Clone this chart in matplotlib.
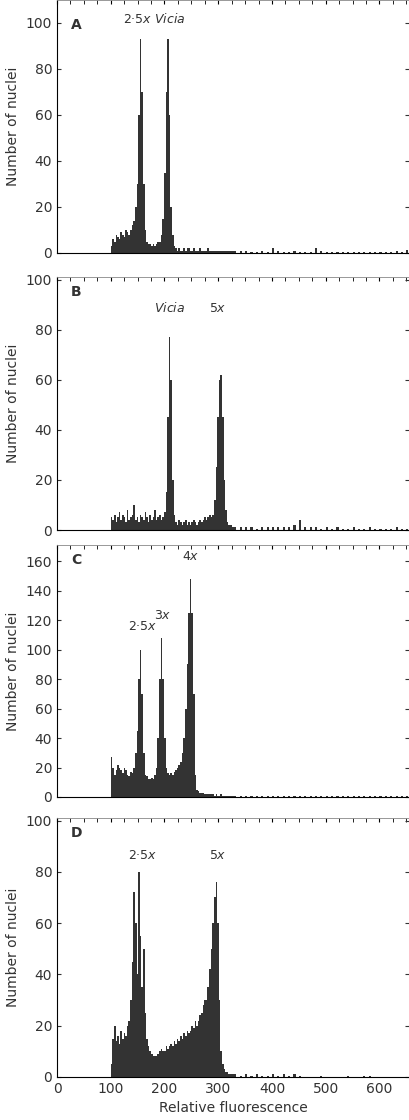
import numpy as np
import matplotlib.pyplot as plt
from matplotlib.ticker import MultipleLocator

# main region: bins of width 3 starting at 100; tail region: width 10 from 330
main_x = np.arange(100, 331, 3)
tail_x = np.arange(330, 700, 10)

a_main = [3, 6, 5, 8, 7, 6, 9, 8, 7, 10, 9, 8, 10, 12, 14, 20,
          30, 60, 93, 70, 30, 10, 5, 4, 4, 3, 4, 3, 4, 5, 5, 8, 15, 35, 70, 93, 60, 20, 8, 3,
          2, 1, 2, 1, 1, 2, 1, 2, 2, 1, 1, 2, 1, 1, 1, 2, 1, 1, 1, 1, 2, 1, 1, 1, 1, 1, 1, 1,
          1, 1, 1, 1, 1, 1, 1, 1, 1]
a_tail = [1, 1, 1, 0.5, 0.5, 1, 0.5, 2, 1, 0.5, 0.5, 1, 0.5, 0.5, 0.5, 2, 1, 0.5, 0.5,
          0.5, 0.5, 0.5, 0.5, 0.5, 0.5, 0.5, 0.5, 0.5, 0.5, 0.5, 1, 0.5, 1.5, 0.5, 0.5, 0.5, 0.5]

b_main = [5, 4, 6, 3, 5, 7, 4, 6, 5, 3, 8, 4, 5, 6, 10, 4, 5, 3, 6, 5, 4, 7, 5, 3, 6, 4, 5, 8, 4, 5, 6, 4, 5, 7,
          15, 45, 77, 60, 20, 6,
          3, 2, 4, 3, 2, 3, 4, 2, 3, 2, 3, 4, 3, 2, 3, 4, 3, 4, 5, 4, 5, 6, 5, 6,
          12, 25, 45, 60, 62, 45, 20, 8,
          3, 2, 2, 1, 1]
b_tail = [1, 1, 1, 1, 0.5, 1, 1, 1, 1, 1, 1, 2, 4, 1, 1, 1, 0.5, 1, 0.5, 1, 0.5, 0.5, 1, 0.5,
          0.5, 1, 0.5, 0.5, 0.5, 0.5, 1, 0.5, 0.5, 1, 0.5, 0.5, 0.5]

c_main = [27, 20, 15, 18, 22, 20, 18, 16, 20, 18, 15, 14, 17, 16, 20, 30,
          45, 80, 100, 70, 30, 15, 14, 12, 12, 13, 12, 15, 20, 40, 80, 108, 80, 40, 20, 16, 15,
          16, 15, 17, 18, 20, 22, 24, 30, 40, 60, 90,
          125, 148, 125, 70, 15, 5,
          4, 3, 3, 3, 2, 2, 2, 2, 2, 2, 1, 2, 1, 1, 2, 1, 1, 1, 1, 1, 1, 1, 1]
c_tail = [1, 1, 1, 1, 1, 1, 1, 0.5, 1, 1, 0.5, 1, 0.5, 0.5, 1, 0.5, 0.5, 0.5, 1, 0.5, 0.5,
          0.5, 0.5, 0.5, 0.5, 0.5, 0.5, 0.5, 0.5, 0.5, 0.5, 0.5, 0.5, 0.5, 0.5, 0.5, 0.5]

d_main = [5, 15, 20, 14, 16, 13, 18, 15, 17, 16, 20, 22, 30, 45,
          72, 60, 40, 80, 55, 35, 50, 25, 15, 12,
          10, 9, 8, 8, 8, 9, 10, 11, 10, 10, 12, 11, 12, 13, 12, 14, 13, 15, 14, 16,
          15, 17, 16, 18, 17, 18, 20, 19, 22, 20, 22, 24, 25, 28, 30,
          30, 35, 42, 50, 60, 70, 76, 60, 30,
          10, 5, 3, 2, 2, 1, 1, 1, 1]
d_tail = [1, 0.5, 1, 0.5, 1, 0.5, 0.5, 1, 0.5, 1, 0.5, 1, 0.5, 0, 0, 0, 0.5, 0, 0, 0,
          0, 0.5, 0, 0, 0.5, 0.5, 0, 0, 0, 0, 0, 0, 0, 0, 0, 0, 0]

panels = [
    ("A", a_main, a_tail, 110, 20, [(180, 100, "2·5$x$ $Vicia$")]),
    ("B", b_main, b_tail, 101, 20, [(210, 87, "$Vicia$"), (300, 87, "5$x$")]),
    ("C", c_main, c_tail, 171, 20, [(160, 113, "2·5$x$"), (196, 121, "3$x$"), (248, 161, "4$x$")]),
    ("D", d_main, d_tail, 101, 20, [(160, 85, "2·5$x$"), (300, 85, "5$x$")]),
]
# axes boxes in pixels (top, bottom)
boxes = [(0, 253), (277, 530), (545, 797), (818, 1077)]

W, H = 410, 1120
fig = plt.figure(figsize=(W / 100, H / 100), dpi=100)
col = "#333333"

for (lab, main, tail, ymax, ystep, notes), (top, bot) in zip(panels, boxes):
    ax = fig.add_axes([57 / W, 1 - bot / H, (W - 58) / W, (bot - top) / H])
    ax.bar(main_x, main, width=3, align="edge", color=col, linewidth=0)
    ax.bar(tail_x, tail, width=4, align="edge", color=col, linewidth=0)
    ax.set_xlim(0, 655)
    ax.set_ylim(0, ymax)
    ax.yaxis.set_major_locator(MultipleLocator(ystep))
    ax.xaxis.set_minor_locator(MultipleLocator(25))
    ax.tick_params(axis="y", direction="in", right=True, labelsize=10, length=3, colors="#333333")
    ax.tick_params(axis="x", which="both", direction="in", top=True, bottom=False, length=3)
    ax.set_ylabel("Number of nuclei", fontsize=10, color="#333333")
    ax.text(0.04, 0.97 if lab != "A" else 0.93, lab, transform=ax.transAxes, fontsize=10,
            fontweight="bold", va="top", color="#333333")
    for x, y, t in notes:
        ax.text(x, y, t, ha="center", fontsize=9, color="#333333")
    for s in ["top", "right"]:
        ax.spines[s].set_linewidth(0.6)
        ax.spines[s].set_color("#888888")
    if lab == "D":
        ax.xaxis.set_major_locator(MultipleLocator(100))
        ax.set_xticks(range(0, 700, 100))
        ax.tick_params(axis="x", labelbottom=True, labelsize=10, labelcolor="#333333")
        ax.set_xlabel("Relative fluorescence", fontsize=10, color="#333333")
    else:
        ax.tick_params(axis="x", labelbottom=False)

fig.savefig("out.png", dpi=100)
